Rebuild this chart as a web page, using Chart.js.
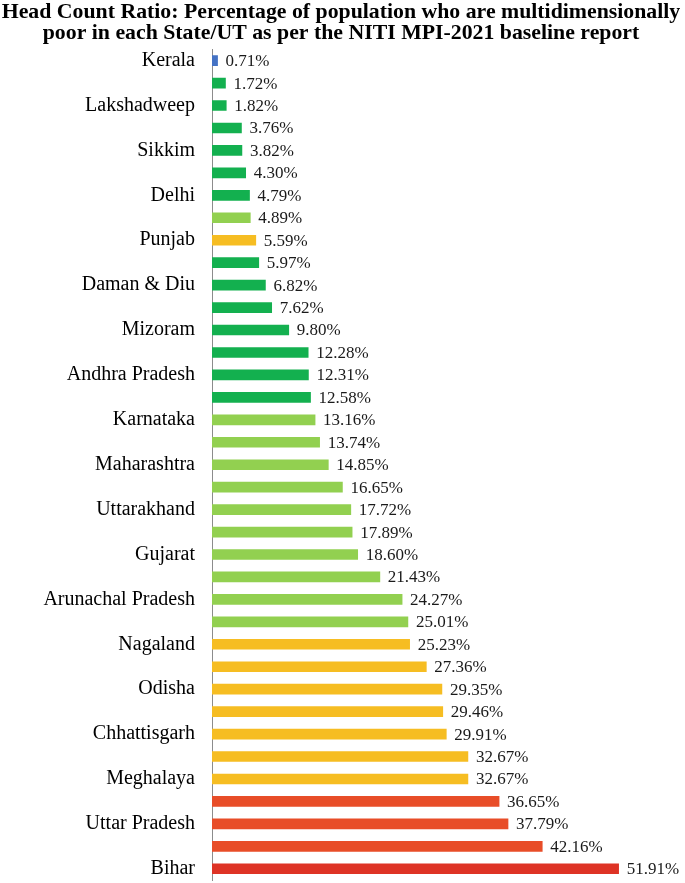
<!DOCTYPE html>
<html>
<head>
<meta charset="utf-8">
<script src="https://cdn.jsdelivr.net/npm/chart.js@4.4.1/dist/chart.umd.min.js"></script>
<style>
html,body{margin:0;padding:0;background:#fff;overflow:hidden;}
canvas{display:block;}
</style>
</head>
<body>
<canvas id="c" width="685" height="883" style="width:685px;height:883px;"></canvas>
<script>
const titleLines = [
  "Head Count Ratio: Percentage of population who are multidimensionally",
  "poor in each State/UT as per the NITI MPI-2021 baseline report"
];
const states = ["Kerala","Puducherry","Lakshadweep","Goa","Sikkim","Andaman & Nicobar Islands","Delhi","Tamil Nadu","Punjab","Chandigarh","Daman & Diu","Himachal Pradesh","Mizoram","Haryana","Andhra Pradesh","Jammu & Kashmir","Karnataka","Telangana","Maharashtra","Tripura","Uttarakhand","Manipur","Gujarat","West Bengal","Arunachal Pradesh","Ladakh","Nagaland","Dadra & Nagar Haveli","Odisha","Rajasthan","Chhattisgarh","Assam","Meghalaya","Madhya Pradesh","Uttar Pradesh","Jharkhand","Bihar"];
const headCountRatio = [0.71,1.72,1.82,3.76,3.82,4.30,4.79,4.89,5.59,5.97,6.82,7.62,9.80,12.28,12.31,12.58,13.16,13.74,14.85,16.65,17.72,17.89,18.60,21.43,24.27,25.01,25.23,27.36,29.35,29.46,29.91,32.67,32.67,36.65,37.79,42.16,51.91];

const BLUE="#4472C4", DG="#13B04F", LG="#92D050", YL="#F6BD22", RD="#E84D28", DR="#DE3325";
const barColors = [BLUE,DG,DG,DG,DG,DG,DG,LG,YL,DG,DG,DG,DG,DG,DG,DG,LG,LG,LG,LG,LG,LG,LG,LG,LG,LG,YL,YL,YL,YL,YL,YL,YL,RD,RD,RD,DR];

const valueLabels = {
  id:'valueLabels',
  afterDatasetsDraw(chart){
    const ctx = chart.ctx;
    const meta = chart.getDatasetMeta(0);
    ctx.save();
    ctx.font = "17px 'Liberation Serif'";
    ctx.fillStyle = "#1a1a1a";
    ctx.textAlign = "left";
    ctx.textBaseline = "middle";
    meta.data.forEach((el,i)=>{
      const v = chart.data.datasets[0].data[i];
      ctx.fillText(v.toFixed(2)+"%", el.x + 8, el.y + 1);
    });
    ctx.restore();
  }
};

new Chart(document.getElementById('c'), {
  type:'bar',
  data:{
    labels: states,
    datasets:[{
      data: headCountRatio,
      backgroundColor: barColors,
      barThickness: 10,
      borderWidth: 0
    }]
  },
  options:{
    indexAxis:'y',
    responsive:false,
    maintainAspectRatio:false,
    animation:false,
    devicePixelRatio:1,
    layout:{padding:{left:0,right:3,top:0,bottom:3}},
    plugins:{
      legend:{display:false},
      tooltip:{enabled:false},
      title:{
        display:true,
        text:titleLines,
        color:"#000",
        font:{family:"'Liberation Serif'",size:21.8,weight:'bold',lineHeight:0.95},
        padding:{top:2,bottom:6}
      }
    },
    scales:{
      x:{
        display:false,
        min:0,
        max:60
      },
      y:{
        afterFit(scale){ scale.width = 212; scale.paddingTop = 0; scale.paddingBottom = 0; },
        grid:{display:false,drawTicks:false},
        border:{display:true,color:"#8c8c8c",width:1},
        ticks:{
          autoSkip:false,
          padding:17,
          color:"#000",
          font:{family:"'Liberation Serif'",size:20},
          callback:function(val,idx){ return idx%2===0 ? this.getLabelForValue(val) : ""; }
        }
      }
    }
  },
  plugins:[valueLabels]
});
</script>
</body>
</html>
